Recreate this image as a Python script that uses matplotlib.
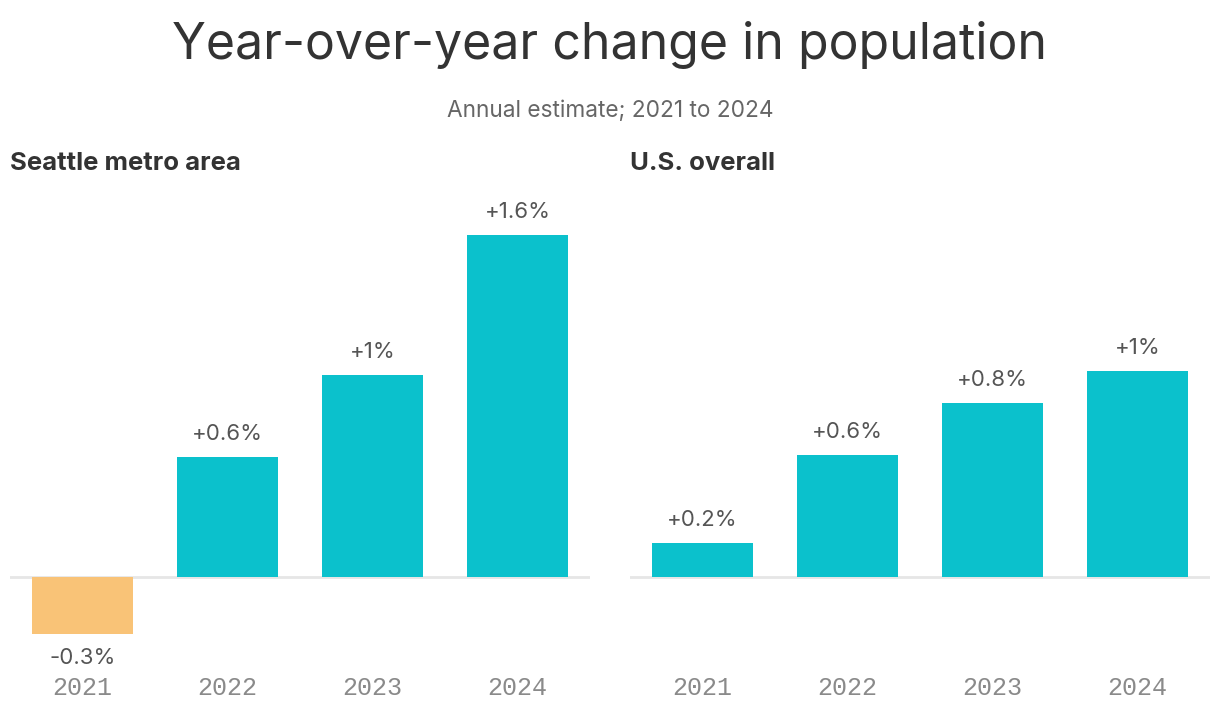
"""
Year-over-year population change, Seattle metro vs U.S.
"""

import matplotlib
matplotlib.use('Agg')
import matplotlib.pyplot as plt

years = ['2021', '2022', '2023', '2024']
seattle = [-0.27, 0.57, 0.96, 1.63]
seattle_labels = ['-0.3%', '+0.6%', '+1%', '+1.6%']
us = [0.16, 0.58, 0.83, 0.98]
us_labels = ['+0.2%', '+0.6%', '+0.8%', '+1%']

TEAL = '#0bc1cc'
ORANGE = '#f9c377'

plt.rcParams['font.family'] = ['Inter', 'DejaVu Sans']

W, H = 1220, 720
fig = plt.figure(figsize=(W/100, H/100), dpi=100)

def panel(left, values, labels, title):
    ax = fig.add_axes([left/W, 70/H, 580/W, 450/H])
    x = list(range(len(values)))
    colours = [ORANGE if v < 0 else TEAL for v in values]
    ax.bar(x, values, width=0.69, color=colours, zorder=2)
    ax.axhline(0, color='#e6e6e6', linewidth=2, zorder=1)
    ax.set_xlim(-0.5, len(values) - 0.5)
    ax.set_ylim(-73/210, 377/210)
    ax.axis('off')
    for xi, v, lab in zip(x, values, labels):
        off = 23 if v >= 0 else -24
        ax.annotate(lab, (xi, v), xytext=(0, off*0.72), textcoords='offset points',
                    ha='center', va='center', fontsize=16, color='#555555')
    for xi, yr in zip(x, years):
        ax.text(xi, -38/450, yr, transform=ax.get_xaxis_transform(), ha='center',
                va='center', fontsize=18, color='#8a8a8a', family='Liberation Mono')
    fig.text(left/W, 1 - 163/H, title, ha='left', va='center', fontsize=18.5,
             fontweight='bold', color='#333333')
    return ax

panel(10, seattle, seattle_labels, 'Seattle metro area')
panel(630, us, us_labels, 'U.S. overall')

fig.text(0.5, 1 - 45/H, 'Year-over-year change in population', ha='center', va='center',
         fontsize=36, color='#333333')
fig.text(0.5, 1 - 111/H, 'Annual estimate; 2021 to 2024', ha='center', va='center',
         fontsize=16.3, color='#666666')

fig.savefig('out.png', dpi=100, facecolor='white')
